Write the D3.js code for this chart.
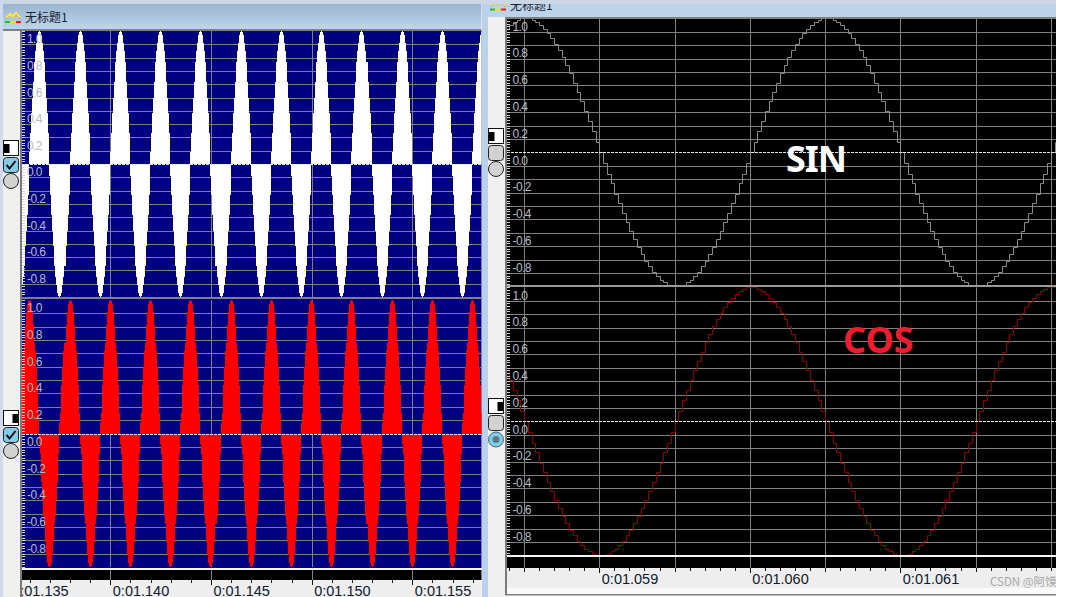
<!DOCTYPE html>
<html>
<head>
<meta charset="utf-8">
<script src="https://cdn.jsdelivr.net/npm/d3@7"></script>
<style>
  body { margin: 0; background: #fff; overflow: hidden; }
  svg { display: block; }
  text { font-family: "Liberation Sans", sans-serif; }
  .ylab { font-size: 12px; letter-spacing: -0.6px; fill: #b8bcc0; }
  .xlab { font-size: 14.5px; fill: #101830; }
</style>
</head>
<body>
<div id="chart"></div>
<script>
// left window: one value per 0.05 ms
const FAST_START = 1135.575;
const FAST_STEP = 0.05;
const sinFast = [
  -.97,-.91,-.85,-.77,-.62,-.5,-.38,-.23,.09,.23,.38,.5,.62,.77,.85,.91,.97,.99,1,.99,.97,.91,.85,.77,.62,.5,.38,.23,-.09,-.23,-.38,-.5,-.62,-.77,-.85,-.91,-.97,-.99,-1,-.99,
  -.97,-.91,-.85,-.77,-.62,-.5,-.38,-.23,.09,.23,.38,.5,.62,.77,.85,.91,.97,.99,1,.99,.97,.91,.85,.77,.62,.5,.38,.23,-.09,-.23,-.38,-.5,-.62,-.77,-.85,-.91,-.97,-.99,-1,-.99,
  -.97,-.91,-.85,-.77,-.62,-.5,-.38,-.23,.09,.23,.38,.5,.62,.77,.85,.91,.97,.99,1,.99,.97,.91,.85,.77,.62,.5,.38,.23,-.09,-.23,-.38,-.5,-.62,-.77,-.85,-.91,-.97,-.99,-1,-.99,
  -.97,-.91,-.85,-.77,-.62,-.5,-.38,-.23,.09,.23,.38,.5,.62,.77,.85,.91,.97,.99,1,.99,.97,.91,.85,.77,.62,.5,.38,.23,-.09,-.23,-.38,-.5,-.62,-.77,-.85,-.91,-.97,-.99,-1,-.99,
  -.97,-.91,-.85,-.77,-.62,-.5,-.38,-.23,.09,.23,.38,.5,.62,.77,.85,.91,.97,.99,1,.99,.97,.91,.85,.77,.62,.5,.38,.23,-.09,-.23,-.38,-.5,-.62,-.77,-.85,-.91,-.97,-.99,-1,-.99,
  -.97,-.91,-.85,-.77,-.62,-.5,-.38,-.23,.09,.23,.38,.5,.62,.77,.85,.91,.97,.99,1,.99,.97,.91,.85,.77,.62,.5,.38,.23,-.09,-.23,-.38,-.5,-.62,-.77,-.85,-.91,-.97,-.99,-1,-.99,
  -.97,-.91,-.85,-.77,-.62,-.5,-.38,-.23,.09,.23,.38,.5,.62,.77,.85,.91,.97,.99,1,.99,.97,.91,.85,.77,.62,.5,.38,.23,-.09,-.23,-.38,-.5,-.62,-.77,-.85,-.91,-.97,-.99,-1,-.99,
  -.97,-.91,-.85,-.77,-.62,-.5,-.38,-.23,.09,.23,.38,.5,.62,.77,.85,.91,.97,.99,1,.99,.97,.91,.85,.77,.62,.5,.38,.23,-.09,-.23,-.38,-.5,-.62,-.77,-.85,-.91,-.97,-.99,-1,-.99,
  -.97,-.91,-.85,-.77,-.62,-.5,-.38,-.23,.09,.23,.38,.5,.62,.77,.85,.91,.97,.99,1,.99,.97,.91,.85,.77,.62,.5,.38,.23,-.09,-.23,-.38,-.5,-.62,-.77,-.85,-.91,-.97,-.99,-1,-.99,
  -.97,-.91,-.85,-.77,-.62,-.5,-.38,-.23,.09,.23,.38,.5,.62,.77,.85,.91,.97,.99,1,.99,.97,.91,.85,.77,.62,.5,.38,.23,-.09,-.23,-.38,-.5,-.62,-.77,-.85,-.91,-.97,-.99,-1,-.99,
  -.97,-.91,-.85,-.77,-.62,-.5,-.38,-.23,.09,.23,.38,.5,.62,.77,.85,.91,.97,.99,1,.99,.97,.91,.85,.77,.62,.5,.38,.23,-.09,-.23,-.38,-.5,-.62,-.77,-.85,-.91,-.97,-.99,-1,-.99,
  -.97,-.91,-.85,-.77,-.62,-.5,-.38,-.23,.09,.23,.38,.5,.62,.77,.85,.91,.97,.99,1,.99,.97,.91,.85,.77,.62,.5,.38,.23,-.09,-.23,-.38,-.5,-.62,-.77,-.85,-.91,-.97,-.99,-1,-.99,
];
const cosFast = [
  .36,.5,.62,.68,.81,.91,.97,.99,1,.99,.97,.91,.81,.68,.62,.5,.36,.15,-.08,-.15,-.36,-.5,-.62,-.68,-.81,-.91,-.97,-.99,-1,-.99,-.97,-.91,-.81,-.68,-.62,-.5,-.36,-.15,.08,.15,
  .36,.5,.62,.68,.81,.91,.97,.99,1,.99,.97,.91,.81,.68,.62,.5,.36,.15,-.08,-.15,-.36,-.5,-.62,-.68,-.81,-.91,-.97,-.99,-1,-.99,-.97,-.91,-.81,-.68,-.62,-.5,-.36,-.15,.08,.15,
  .36,.5,.62,.68,.81,.91,.97,.99,1,.99,.97,.91,.81,.68,.62,.5,.36,.15,-.08,-.15,-.36,-.5,-.62,-.68,-.81,-.91,-.97,-.99,-1,-.99,-.97,-.91,-.81,-.68,-.62,-.5,-.36,-.15,.08,.15,
  .36,.5,.62,.68,.81,.91,.97,.99,1,.99,.97,.91,.81,.68,.62,.5,.36,.15,-.08,-.15,-.36,-.5,-.62,-.68,-.81,-.91,-.97,-.99,-1,-.99,-.97,-.91,-.81,-.68,-.62,-.5,-.36,-.15,.08,.15,
  .36,.5,.62,.68,.81,.91,.97,.99,1,.99,.97,.91,.81,.68,.62,.5,.36,.15,-.08,-.15,-.36,-.5,-.62,-.68,-.81,-.91,-.97,-.99,-1,-.99,-.97,-.91,-.81,-.68,-.62,-.5,-.36,-.15,.08,.15,
  .36,.5,.62,.68,.81,.91,.97,.99,1,.99,.97,.91,.81,.68,.62,.5,.36,.15,-.08,-.15,-.36,-.5,-.62,-.68,-.81,-.91,-.97,-.99,-1,-.99,-.97,-.91,-.81,-.68,-.62,-.5,-.36,-.15,.08,.15,
  .36,.5,.62,.68,.81,.91,.97,.99,1,.99,.97,.91,.81,.68,.62,.5,.36,.15,-.08,-.15,-.36,-.5,-.62,-.68,-.81,-.91,-.97,-.99,-1,-.99,-.97,-.91,-.81,-.68,-.62,-.5,-.36,-.15,.08,.15,
  .36,.5,.62,.68,.81,.91,.97,.99,1,.99,.97,.91,.81,.68,.62,.5,.36,.15,-.08,-.15,-.36,-.5,-.62,-.68,-.81,-.91,-.97,-.99,-1,-.99,-.97,-.91,-.81,-.68,-.62,-.5,-.36,-.15,.08,.15,
  .36,.5,.62,.68,.81,.91,.97,.99,1,.99,.97,.91,.81,.68,.62,.5,.36,.15,-.08,-.15,-.36,-.5,-.62,-.68,-.81,-.91,-.97,-.99,-1,-.99,-.97,-.91,-.81,-.68,-.62,-.5,-.36,-.15,.08,.15,
  .36,.5,.62,.68,.81,.91,.97,.99,1,.99,.97,.91,.81,.68,.62,.5,.36,.15,-.08,-.15,-.36,-.5,-.62,-.68,-.81,-.91,-.97,-.99,-1,-.99,-.97,-.91,-.81,-.68,-.62,-.5,-.36,-.15,.08,.15,
  .36,.5,.62,.68,.81,.91,.97,.99,1,.99,.97,.91,.81,.68,.62,.5,.36,.15,-.08,-.15,-.36,-.5,-.62,-.68,-.81,-.91,-.97,-.99,-1,-.99,-.97,-.91,-.81,-.68,-.62,-.5,-.36,-.15,.08,.15,
  .36,.5,.62,.68,.81,.91,.97,.99,1,.99,.97,.91,.81,.68,.62,.5,.36,.15,-.08,-.15,-.36,-.5,-.62,-.68,-.81,-.91,-.97,-.99,-1,-.99,-.97,-.91,-.81,-.68,-.62,-.5,-.36,-.15,.08,.15,
];

// right window: 0.025 ms per sample, first sample at 1058.375 ms
const SLOW_START = 1058.375;
const SLOW_STEP = 0.025;
const sinSlow = [
  .92,.95,.97,.99,1,1,1,.99,.97,.95,.92,.89,.85,.81,.76,.71,.65,.59,.52,.45,.38,.31,.23,.16,.08,0,
  -.08,-.16,-.23,-.31,-.38,-.45,-.52,-.59,-.65,-.71,-.76,-.81,-.85,-.89,-.92,-.95,-.97,-.99,-1,-1,-1,-.99,-.97,-.95,-.92,-.89,-.85,-.81,-.76,-.71,-.65,-.59,-.52,-.45,-.38,-.31,-.23,-.16,-.08,0,
  .08,.16,.23,.31,.38,.45,.52,.59,.65,.71,.76,.81,.85,.89,
  .92,.95,.97,.99,1,1,1,.99,.97,.95,.92,.89,.85,.81,.76,.71,.65,.59,.52,.45,.38,.31,.23,.16,.08,0,
  -.08,-.16,-.23,-.31,-.38,-.45,-.52,-.59,-.65,-.71,-.76,-.81,-.85,-.89,-.92,-.95,-.97,-.99,-1,-1,-1,-.99,-.97,-.95,-.92,-.89,-.85,-.81,-.76,-.71,-.65,-.59,-.52,-.45,-.38,-.31,-.23,-.16,-.08,0,
  .08,.16,
];
const cosSlow = [
  .38,.31,.23,.16,.08,0,
  -.08,-.16,-.23,-.31,-.38,-.45,-.52,-.59,-.65,-.71,-.76,-.81,-.85,-.89,-.92,-.95,-.97,-.99,-1,-1,-1,-.99,-.97,-.95,-.92,-.89,-.85,-.81,-.76,-.71,-.65,-.59,-.52,-.45,-.38,-.31,-.23,-.16,-.08,0,
  .08,.16,.23,.31,.38,.45,.52,.59,.65,.71,.76,.81,.85,.89,.92,.95,.97,.99,1,1,1,.99,.97,.95,.92,.89,.85,.81,.76,.71,.65,.59,.52,.45,
  .38,.31,.23,.16,.08,0,
  -.08,-.16,-.23,-.31,-.38,-.45,-.52,-.59,-.65,-.71,-.76,-.81,-.85,-.89,-.92,-.95,-.97,-.99,-1,-1,-1,-.99,-.97,-.95,-.92,-.89,-.85,-.81,-.76,-.71,-.65,-.59,-.52,-.45,-.38,-.31,-.23,-.16,-.08,0,
  .08,.16,.23,.31,.38,.45,.52,.59,.65,.71,.76,.81,.85,.89,.92,.95,.97,.99,1,1,1,.99,
];

const yLabels = ["1.0", "0.8", "0.6", "0.4", "0.2", "0.0", "-0.2", "-0.4", "-0.6", "-0.8"];
const yLabelValues = [1, 0.8, 0.6, 0.4, 0.2, 0, -0.2, -0.4, -0.6, -0.8];
const yGridValues = [0.9, 0.8, 0.7, 0.6, 0.5, 0.4, 0.3, 0.2, 0.1, -0.1, -0.2, -0.3, -0.4, -0.5, -0.6, -0.7, -0.8, -0.9];

const fastLabels = ["0:01.135", "0:01.140", "0:01.145", "0:01.150", "0:01.155"];
const fastLabelTimes = [1135, 1140, 1145, 1150, 1155];
const fastGridTimes = [1140, 1145, 1150, 1155];
const slowLabels = ["0:01.059", "0:01.060", "0:01.061"];
const slowLabelTimes = [1059, 1060, 1061];
const slowGridTimes = [1058.5, 1059, 1059.5, 1060, 1060.5, 1061, 1061.5, 1062];

const svg = d3
  .select("#chart")
  .append("svg")
  .attr("width", 1073)
  .attr("height", 597);

const defs = svg.append("defs");
const grad = defs
  .append("linearGradient")
  .attr("id", "titleBar")
  .attr("x1", 0)
  .attr("x2", 0)
  .attr("y1", 0)
  .attr("y2", 1);
grad.append("stop").attr("offset", "0%").attr("stop-color", "#9ab5d0");
grad.append("stop").attr("offset", "100%").attr("stop-color", "#bed5ed");

function box(x, y, w, h, fill) {
  return svg
    .append("rect")
    .attr("x", x)
    .attr("y", y)
    .attr("width", w)
    .attr("height", h)
    .attr("fill", fill);
}

function addIcon(x, y) {
  svg
    .append("path")
    .attr("d", `M${x + 1} ${y + 6.5}l4 -4l3 3l3 -4l4 5`)
    .attr("fill", "none")
    .attr("stroke", "#5a5a30")
    .attr("stroke-width", 1);
  svg
    .append("path")
    .attr("d", `M${x + 1} ${y + 5.5}l4 -4l3 3l3 -4l4 5`)
    .attr("fill", "none")
    .attr("stroke", "#ffe93a")
    .attr("stroke-width", 2);
  box(x, y + 8.5, 5, 2, "#1cc81c");
  box(x + 5, y + 8.5, 6, 2, "#f4e020");
  box(x + 11, y + 8.5, 5, 2, "#ee2010");
}

function addTitle(x, y) {
  svg
    .append("text")
    .attr("x", x)
    .attr("y", y)
    .style("font-family", '"Noto Sans CJK SC"')
    .style("font-size", "12px")
    .attr("fill", "#1a2230")
    .text("无标题1");
}

function addSwatch(x, y, blackLeft) {
  box(x + 0.5, y + 0.5, 15, 15, "#fff").attr("stroke", "#111");
  box(blackLeft ? x + 1 : x + 9.5, y + 4, 5.5, 9, "#000");
}

function addCheck(x, y, on) {
  box(x + 0.5, y + 0.5, 15, 15, on ? "#84cbe8" : "#d2d2d2")
    .attr("rx", 3)
    .attr("stroke", "#222");
  if (on) {
    svg
      .append("path")
      .attr("d", `M${x + 3.5} ${y + 8}l3 3.5l6 -7.5`)
      .attr("fill", "none")
      .attr("stroke", "#111")
      .attr("stroke-width", 2);
  }
}

function addRadio(x, y, on) {
  svg
    .append("circle")
    .attr("cx", x + 8)
    .attr("cy", y + 8)
    .attr("r", 7.5)
    .attr("fill", on ? "#84cbe8" : "#d2d2d2")
    .attr("stroke", on ? "#3a6a80" : "#222");
  if (on) {
    svg
      .append("circle")
      .attr("cx", x + 8)
      .attr("cy", y + 8)
      .attr("r", 3.5)
      .attr("fill", "#5a7a88");
  }
}

function drawPanel(p) {
  const x = p.xScale;
  const y = d3.scaleLinear().domain([-1, 1]).range([p.bottom, p.top]);
  const g = svg.append("g");

  g.selectAll("line.h")
    .data(yGridValues)
    .join("line")
    .attr("x1", p.left)
    .attr("x2", p.right)
    .attr("y1", d => Math.round(y(d)) + 0.5)
    .attr("y2", d => Math.round(y(d)) + 0.5)
    .attr("stroke", "#808080");

  g.selectAll("line.v")
    .data(p.gridTimes)
    .join("line")
    .attr("x1", d => Math.round(x(d)) + 0.5)
    .attr("x2", d => Math.round(x(d)) + 0.5)
    .attr("y1", p.top)
    .attr("y2", p.bottom)
    .attr("stroke", "#808080");

  const clipId = "clip" + p.id;
  defs
    .append("clipPath")
    .attr("id", clipId)
    .append("rect")
    .attr("x", p.left)
    .attr("y", p.top)
    .attr("width", p.right - p.left)
    .attr("height", p.bottom - p.top);

  const t = i => x(p.start + i * p.step);
  if (p.fill) {
    g.append("path")
      .datum(p.values)
      .attr("clip-path", `url(#${clipId})`)
      .attr("shape-rendering", "crispEdges")
      .attr("fill", p.fill)
      .attr(
        "d",
        d3
          .area()
          .curve(d3.curveStepAfter)
          .x((d, i) => t(i))
          .y0(y(0))
          .y1(d => y(d))
      );
  } else {
    g.append("path")
      .datum(p.values)
      .attr("clip-path", `url(#${clipId})`)
      .attr("fill", "none")
      .attr("stroke", p.stroke)
      .attr("stroke-width", 1)
      .attr(
        "d",
        d3
          .line()
          .curve(d3.curveStepAfter)
          .x((d, i) => Math.round(t(i)) + 0.5)
          .y(d => Math.round(y(d)) + 0.5)
      );
  }

  g.append("line")
    .attr("x1", p.left)
    .attr("x2", p.right)
    .attr("y1", Math.round(y(0)) + 0.5)
    .attr("y2", Math.round(y(0)) + 0.5)
    .attr("stroke", "#e4e4e4")
    .attr("stroke-dasharray", "3,1");

  const minorY = d3.axisRight(y).tickValues(d3.range(-50, 51).map(d => d / 50)).tickSize(3).tickFormat("");
  g.append("g")
    .attr("transform", `translate(${p.left},0)`)
    .call(minorY)
    .call(a => a.select(".domain").remove())
    .selectAll("line")
    .attr("stroke", "#d8d8d8")
    .attr("shape-rendering", "crispEdges");

  const labelY = d3
    .axisRight(y)
    .tickValues(yLabelValues)
    .tickSize(0)
    .tickFormat((d, i) => yLabels[i]);
  g.append("g")
    .attr("transform", `translate(${p.left},0)`)
    .call(labelY)
    .call(a => a.select(".domain").remove())
    .selectAll("text")
    .attr("class", "ylab")
    .attr("x", p.labelInset)
    .attr("y", 8)
    .style("font-family", null)
    .style("font-size", null);
}

function drawTimeAxis(xScale, y, labelTimes, labels, minorTimes, midTimes, labelY) {
  const minor = d3.axisBottom(xScale).tickValues(minorTimes).tickSize(3).tickFormat("");
  svg
    .append("g")
    .attr("transform", `translate(0,${y})`)
    .call(minor)
    .call(a => a.select(".domain").remove())
    .selectAll("line")
    .attr("stroke", "#111")
    .attr("shape-rendering", "crispEdges");

  const mid = d3.axisBottom(xScale).tickValues(midTimes).tickSize(4).tickFormat("");
  svg
    .append("g")
    .attr("transform", `translate(0,${y})`)
    .call(mid)
    .call(a => a.select(".domain").remove())
    .selectAll("line")
    .attr("stroke", "#111")
    .attr("shape-rendering", "crispEdges");

  const major = d3
    .axisBottom(xScale)
    .tickValues(labelTimes)
    .tickSize(5)
    .tickFormat((d, i) => labels[i]);
  const axis = svg
    .append("g")
    .attr("transform", `translate(0,${y})`)
    .call(major);
  axis.select(".domain").remove();
  axis.selectAll("line").attr("stroke", "#111").attr("shape-rendering", "crispEdges");
  axis
    .selectAll("text")
    .attr("class", "xlab")
    .attr("text-anchor", "start")
    .attr("x", 2)
    .attr("y", labelY)
    .attr("dy", 0)
    .style("font-family", null)
    .style("font-size", null);
}

// page and window chrome
box(0, 0, 1056, 4, "#ccd6e5");
box(0, 0, 3, 597, "#cfdbec");
box(3, 4, 478.5, 25, "url(#titleBar)");
box(488, 0, 568, 17, "#bcd3ea");
box(482, 4, 6, 593, "#b9d1ea");
addIcon(490, 0);
addTitle(510, 10);
box(482, 0, 574, 4, "#ccd6e5");
addIcon(5, 12.5);
addTitle(25, 22);

// left window
const fastX = d3.scaleLinear().domain([1140, 1155]).range([110.3, 412.3]);
box(3, 29, 17, 568, "#f0f0f0");
box(22, 31, 459.5, 537, "#000080");
box(22, 570, 459.5, 10, "#000");
box(22, 580, 459.5, 17, "#eeeeee");

drawPanel({ id: "a", xScale: fastX, left: 22, right: 481.5, top: 31, bottom: 297, values: sinFast, start: FAST_START, step: FAST_STEP, fill: "#fff", gridTimes: fastGridTimes, labelInset: 5 });
drawPanel({ id: "b", xScale: fastX, left: 22, right: 481.5, top: 300, bottom: 567, values: cosFast, start: FAST_START, step: FAST_STEP, fill: "#ff0000", gridTimes: fastGridTimes, labelInset: 5 });

fastGridTimes.forEach(d => {
  const gx = Math.round(fastX(d)) + 0.5;
  svg.append("line").attr("x1", gx).attr("x2", gx).attr("y1", 568).attr("y2", 580).attr("stroke", "#808080");
});

drawTimeAxis(fastX, 580, fastLabelTimes, fastLabels, d3.range(1136, 1159), [], 16);

box(3, 29, 478.5, 2, "#808080");
box(22, 297, 459.5, 2, "#808080");
box(22, 568, 459.5, 2, "#f4f4f4");
box(3, 140, 17, 457, "#f0f0f0");
box(0, 140, 3, 457, "#cfdbec");
box(20, 29, 2, 568, "#7a7a7a");
addSwatch(3, 140, true);
addCheck(3, 157, true);
addRadio(3, 173, false);
addSwatch(3, 410, false);
addCheck(3, 427, true);
addRadio(3, 443, false);

// right window
const slowX = d3.scaleLinear().domain([1059, 1061]).range([599.3, 900.3]);
box(488, 17, 17, 580, "#f0f0f0");
box(507, 19, 549, 549, "#000");
box(507, 568, 549, 20, "#eeeeee");
box(505, 588, 551, 6, "#fafafa");
box(505, 594, 551, 1.5, "#808080");

drawPanel({ id: "c", xScale: slowX, left: 507, right: 1056, top: 18.3, bottom: 286.3, values: sinSlow, start: SLOW_START, step: SLOW_STEP, stroke: "#8a8a8a", gridTimes: slowGridTimes, labelInset: 5.5 });
drawPanel({ id: "d", xScale: slowX, left: 507, right: 1056, top: 287.3, bottom: 555.3, values: cosSlow, start: SLOW_START, step: SLOW_STEP, stroke: "#900000", gridTimes: slowGridTimes, labelInset: 5.5 });

slowGridTimes.forEach(d => {
  const gx = Math.round(slowX(d)) + 0.5;
  svg.append("line").attr("x1", gx).attr("x2", gx).attr("y1", 556).attr("y2", 568).attr("stroke", "#808080");
});

drawTimeAxis(slowX, 568, slowLabelTimes, slowLabels, d3.range(1058.4, 1062.05, 0.1), [1058.5, 1059.5, 1060.5, 1061.5], 16);

box(505, 17, 2, 578, "#7a7a7a");
box(505, 17, 551, 2, "#808080");
box(507, 285, 549, 2, "#9a9a9a");
box(507, 555, 549, 2, "#f4f4f4");
addSwatch(488, 128, true);
addCheck(488, 145, false);
addRadio(488, 161, false);
addSwatch(488, 398, false);
addCheck(488, 415, false);
addRadio(488, 431.5, true);

// annotations pasted on the screenshot
svg
  .append("text")
  .attr("x", 786)
  .attr("y", 172)
  .style("font-family", '"Noto Sans"')
  .style("font-weight", 700)
  .style("font-size", "36px")
  .style("letter-spacing", "-1px")
  .attr("fill", "#fff")
  .text("SIN");
svg
  .append("text")
  .attr("x", 843)
  .attr("y", 353)
  .style("font-family", '"Noto Sans"')
  .style("font-weight", 700)
  .style("font-size", "36px")
  .attr("fill", "#ed1c2e")
  .text("COS");

svg
  .append("text")
  .attr("x", 990)
  .attr("y", 586)
  .style("font-family", '"Noto Sans CJK SC"')
  .style("font-size", "11.5px")
  .attr("fill", "#a8a8a8")
  .text("CSDN @阿馍");
box(1056, 560, 17, 37, "#fff");
</script>
</body>
</html>
